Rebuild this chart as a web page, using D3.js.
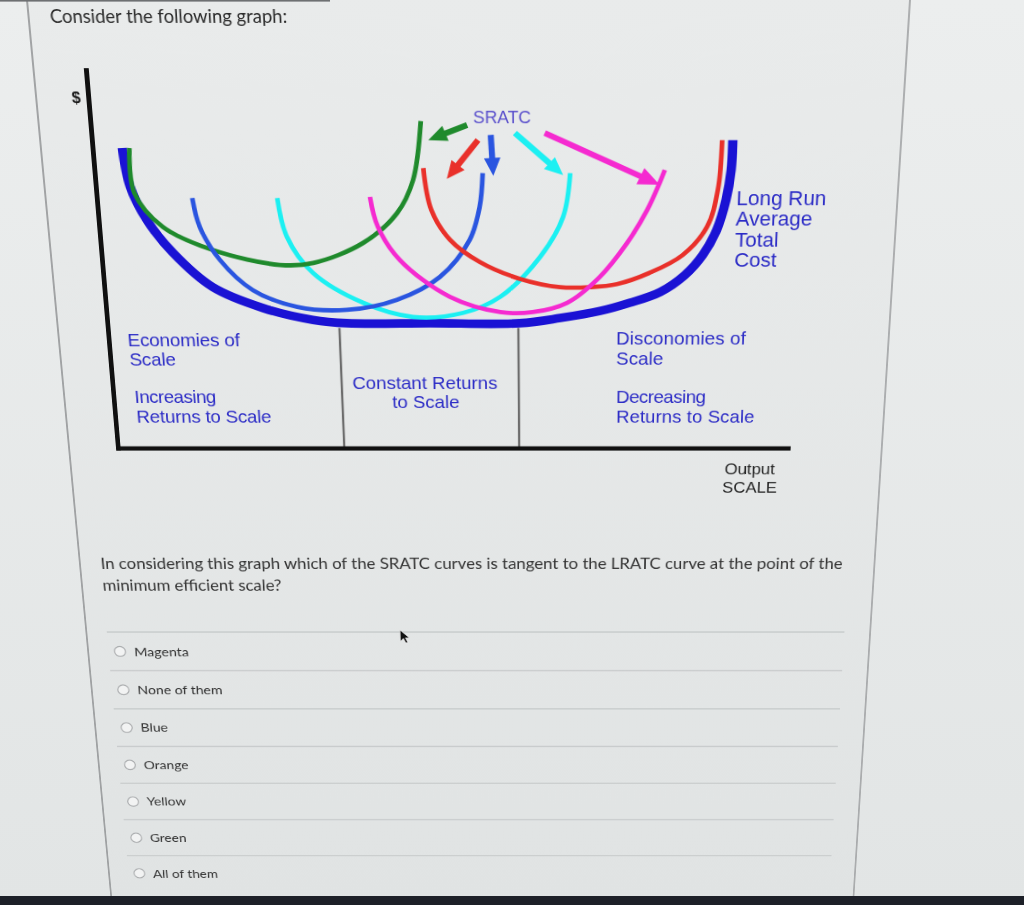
<!DOCTYPE html>
<html>
<head>
<meta charset="utf-8">
<script src="https://cdn.jsdelivr.net/npm/d3@7/dist/d3.min.js"></script>
<style>
html,body{margin:0;padding:0;}
body{width:1024px;height:905px;overflow:hidden;position:relative;background:linear-gradient(#eceeee,#e2e5e5);}
svg{position:absolute;left:0;top:0;overflow:visible;}
#flat{transform-origin:0 0;}
</style>
</head>
<body>
<svg id="flat" width="1024" height="1090"></svg>
<svg id="overlay" width="1024" height="905"></svg>
<script>
// ---------------- DATA (output on x, cost on y, 0-100 units) ----------------
const lratcX   = [4.2, 4.9, 6.9, 10.3, 15.7, 22.8, 30.0, 34.9, 47.0, 60.1, 66.0, 71.8, 76.1, 80.5, 84.0, 86.5, 88.4, 89.6, 90.2, 90.3];
const lratcY   = [80.5, 70.5, 62.0, 53.4, 44.3, 38.7, 35.5, 34.6, 34.6, 34.6, 36.0, 37.9, 40.1, 43.0, 47.5, 52.8, 59.4, 67.2, 74.9, 82.5];
const greenX   = [5.2, 5.4, 9.1, 16.1, 25.6, 30.4, 37.7, 42.7, 45.1, 46.4];
const greenY   = [80.5, 69.0, 60.2, 54.1, 50.2, 50.7, 56.0, 63.8, 72.3, 87.3];
const blueX    = [13.6, 14.4, 17.0, 21.5, 27.8, 35.0, 42.3, 48.6, 53.0, 54.5, 55.0];
const blueY    = [67.7, 60.2, 51.5, 43.5, 39.0, 38.2, 40.9, 47.0, 56.8, 65.4, 74.1];
const cyanX    = [25.7, 26.8, 30.3, 37.4, 44.6, 51.9, 57.3, 63.1, 66.4, 67.4];
const cyanY    = [67.7, 57.6, 48.1, 40.1, 36.3, 37.4, 41.7, 52.3, 62.8, 74.1];
const magentaX = [38.9, 39.9, 42.9, 50.0, 57.3, 62.0, 67.0, 71.7, 75.6, 78.4, 80.1, 80.8];
const magentaY = [68.0, 60.2, 51.5, 41.7, 37.6, 37.6, 40.1, 47.0, 56.0, 64.6, 71.6, 74.9];
const redX     = [46.6, 47.6, 50.2, 54.4, 60.2, 66.0, 70.3, 74.2, 78.9, 83.6, 87.0, 88.4, 88.8];
const redY     = [75.4, 64.6, 56.8, 51.0, 46.5, 44.3, 44.3, 45.1, 48.1, 52.8, 60.2, 69.8, 82.5];

// arrows from the "SRATC" label to each short-run curve
const arrowNames = ["green", "red", "blue", "cyan", "magenta"];
const arrowTailX = [52.9, 54.4, 56.2, 59.6, 63.8];
const arrowTailY = [86.3, 82.5, 83.8, 84.3, 84.3];
const arrowTipX  = [47.4, 49.9, 56.5, 66.4, 80.1];
const arrowTipY  = [82.5, 72.6, 73.4, 73.6, 71.1];

// boundaries of the constant-returns zone (output units) and top of the dividers
const zoneBounds = [33.8, 59.9];
const dividerTop = 33.3;

const curveLabel = "SRATC";
const lratcLabel = ["Long Run", "Average", "Total", "Cost"];
const zoneLabelsLeft  = ["Economies of", "Scale", "Increasing", "Returns to Scale"];
const zoneLabelsMid   = ["Constant Returns", "to Scale"];
const zoneLabelsRight = ["Disconomies of", "Scale", "Decreasing", "Returns to Scale"];
const xAxisLabel = ["Output", "SCALE"];
const yAxisLabel = "$";
const heading = "Consider the following graph:";
const question = ["In considering this graph which of the SRATC curves is tangent to the LRATC curve at the point of the",
                  "minimum efficient scale?"];
const options = ["Magenta", "None of them", "Blue", "Orange", "Yellow", "Green", "All of them"];

// ---------------- STYLE / LAYOUT ----------------
const colors = {lratc:"#1a12d4", green:"#1f8a2c", blue:"#2a55e0", cyan:"#1cf0f2", magenta:"#f52ad0", red:"#e9302a",
                label:"#2c2cc6", sratc:"#5a50cc"};
const K = 1.777e-4, B = 0.0987;   // photo perspective (keystone) of the page
const sans = "'Liberation Sans', Arial, Helvetica, sans-serif";
const lato = "Lato, 'Open Sans', sans-serif";

const flat = d3.select("#flat")
  .style("transform", `matrix3d(1,0,0,0, ${B},1,0,${K}, 0,0,1,0, 0,0,0,1)`);

// page panel
const defs = flat.append("defs");
const pg = defs.append("linearGradient").attr("id","pg").attr("x1",0).attr("x2",0).attr("y1",0).attr("y2",1);
pg.append("stop").attr("offset","0%").attr("stop-color","#e9ebeb");
pg.append("stop").attr("offset","100%").attr("stop-color","#e0e3e3");
flat.append("rect").attr("x",27).attr("y",-10).attr("width",883).attr("height",1100).attr("fill","url(#pg)");
flat.append("line").attr("x1",27).attr("x2",27).attr("y1",-10).attr("y2",1090).attr("stroke","#7a7c7e").attr("stroke-width",1.3);
flat.append("line").attr("x1",910).attr("x2",910).attr("y1",-10).attr("y2",1090).attr("stroke","#8b8d8f").attr("stroke-width",1.3);

// scales
const x = d3.scaleLinear().domain([0,100]).range([80, 808]);
const y = d3.scaleLinear().domain([0,100]).range([486.8, 70.9]);

const chart = flat.append("g");

// zone dividers
chart.selectAll("line.div").data(zoneBounds).join("line").attr("class","div")
  .attr("x1",d=>x(d)).attr("x2",d=>x(d)).attr("y1",y(dividerTop)).attr("y2",y(0))
  .attr("stroke","#6c6c6c").attr("stroke-width",2.4);

// axes
const gx = chart.append("g").attr("transform",`translate(0,${y(0)})`)
  .call(d3.axisBottom(x).tickValues([]).tickSizeOuter(0));
const gy = chart.append("g").attr("transform",`translate(${x(0)},0)`)
  .call(d3.axisLeft(y).tickValues([]).tickSizeOuter(0));
[gx,gy].forEach(g=>g.select(".domain").attr("stroke","#101010").attr("stroke-width",5).attr("stroke-linecap","square"));

// curves
const line = d3.line().x(d=>x(d[0])).y(d=>y(d[1])).curve(d3.curveCatmullRom.alpha(0.5));
const zip = (a,b)=>a.map((v,i)=>[v,b[i]]);
const curves = [
  {key:"lratc",   pts:zip(lratcX,lratcY),     w:9.6},
  {key:"cyan",    pts:zip(cyanX,cyanY),       w:4.8},
  {key:"green",   pts:zip(greenX,greenY),     w:4.8},
  {key:"blue",    pts:zip(blueX,blueY),       w:4.8},
  {key:"red",     pts:zip(redX,redY),         w:4.8},
  {key:"magenta", pts:zip(magentaX,magentaY), w:4.8}
];
chart.selectAll("path.curve").data(curves).join("path").attr("class","curve")
  .attr("d",d=>line(d.pts)).attr("fill","none")
  .attr("stroke",d=>colors[d.key]).attr("stroke-width",d=>d.w).attr("stroke-linecap","butt");

// arrows
arrowNames.forEach((n,i)=>{
  const tx=x(arrowTailX[i]), ty=y(arrowTailY[i]), px=x(arrowTipX[i]), py=y(arrowTipY[i]);
  const len=Math.hypot(px-tx,py-ty), dx=(px-tx)/len, dy=(py-ty)/len;
  const L = n==="magenta"?22:19, W = n==="magenta"?19:17;
  const bx=px-dx*L, by=py-dy*L;
  chart.append("line").attr("x1",tx).attr("y1",ty).attr("x2",bx+dx*2).attr("y2",by+dy*2)
    .attr("stroke",colors[n]).attr("stroke-width",6.2);
  chart.append("path")
    .attr("d",`M${px},${py}L${bx-dy*W/2},${by+dx*W/2}L${bx+dy*W/2},${by-dx*W/2}Z`)
    .attr("fill",colors[n]);
});

// chart texts
function txt(g, s, u, v, size, fill, font, anchor, weight){
  return g.append("text").text(s).attr("x",u).attr("y",v).attr("font-size",size)
    .attr("fill",fill).attr("font-family",font).attr("text-anchor",anchor||"start")
    .attr("font-weight",weight||"normal");
}
function fit(t, target){
  const w=t.node().getComputedTextLength(); const fs=+t.attr("font-size");
  const n=fs*target/w; t.attr("font-size",n); return n;
}
txt(chart, yAxisLabel, 67.7, 104.9, 16, "#151515", sans, "middle", "bold");
fit(txt(chart, curveLabel, 471.2, 125.7, 17.5, colors.sratc, sans), 59.3);

const lrV = [212.7, 235.5, 258.3, 280.3];
const lr0 = txt(chart, lratcLabel[0], 743, lrV[0], 21.5, colors.label, sans);
const lrSize = fit(lr0, 93.4);
lratcLabel.slice(1).forEach((s,i)=>txt(chart, s, 743, lrV[i+1], lrSize, colors.label, sans));

const zm = txt(chart, zoneLabelsMid[0], 415.3, 417.9, 20, colors.label, sans, "middle");
const zSize = fit(zm, 155.7);
txt(chart, zoneLabelsMid[1], 415.9, 439.9, zSize, colors.label, sans, "middle");
const leftPos = [[100,368.7],[100.4,391.5],[102.6,434.1],[103,457.4]];
const rightPos = [[620,367.5],[620.2,390.3],[620.7,434.1],[620.9,457.4]];
zoneLabelsLeft.forEach((s,i)=>txt(chart, s, leftPos[i][0], leftPos[i][1], zSize, colors.label, sans)
  .attr("letter-spacing", i===2?-0.5:-0.15));
zoneLabelsRight.forEach((s,i)=>txt(chart, s, rightPos[i][0], rightPos[i][1], zSize, colors.label, sans)
  .attr("letter-spacing", i===2?-0.5:0.1));
txt(chart, xAxisLabel[0], 767.4, 517.6, 18.3, "#262626", sans, "middle");
txt(chart, xAxisLabel[1], 768.1, 540.3, 18.3, "#262626", sans, "middle");

// page texts
const page = flat.append("g");
fit(txt(page, heading, 48.4, 23.1, 18, "#2b2b2b", lato), 237.8);
const q1 = txt(page, question[0], 49.9, 633.0, 16, "#333", lato);
const qSize = fit(q1, 824.3);
txt(page, question[1], 49.9, 660.3, qSize, "#333", lato);

const band = d3.scaleBand().domain(options).range([712, 712 + 49.5*options.length]);
page.selectAll("line.sep").data(options).join("line").attr("class","sep")
  .attr("x1",50).attr("x2",881).attr("y1",d=>band(d)).attr("y2",d=>band(d))
  .attr("stroke","#c5c8c9").attr("stroke-width",1.3);
page.selectAll("circle.opt").data(options).join("circle").attr("class","opt")
  .attr("cx",63).attr("cy",d=>band(d)+band.step()/2).attr("r",6.3)
  .attr("fill","#f2f3f3").attr("stroke","#a6a8aa").attr("stroke-width",1.2);
const probe = txt(page, options[1], 79, 0, 16, "#333", lato);
const oSize = fit(probe, 96.9); probe.remove();
page.selectAll("text.opt").data(options).join("text").attr("class","opt")
  .attr("x",79).attr("y",d=>band(d)+band.step()/2).attr("dy","0.36em")
  .attr("font-family",lato).attr("font-size",oSize).attr("fill","#333").text(d=>d);

// mouse pointer
page.append("path").attr("transform","translate(380.4,709.4) scale(0.9)")
  .attr("d","M0,0L0,16L4,12L7,18.5L9.5,17.5L6.6,11.2L11.5,11.2Z")
  .attr("fill","#111").attr("stroke","#eee").attr("stroke-width",0.8);

// overlay: screen bezel
const ov = d3.select("#overlay");
ov.append("rect").attr("x",0).attr("y",896).attr("width",1024).attr("height",10).attr("fill","#1d2028");
ov.append("rect").attr("x",0).attr("y",0).attr("width",330).attr("height",1.6).attr("fill","#6e7072");
</script>
</body>
</html>
